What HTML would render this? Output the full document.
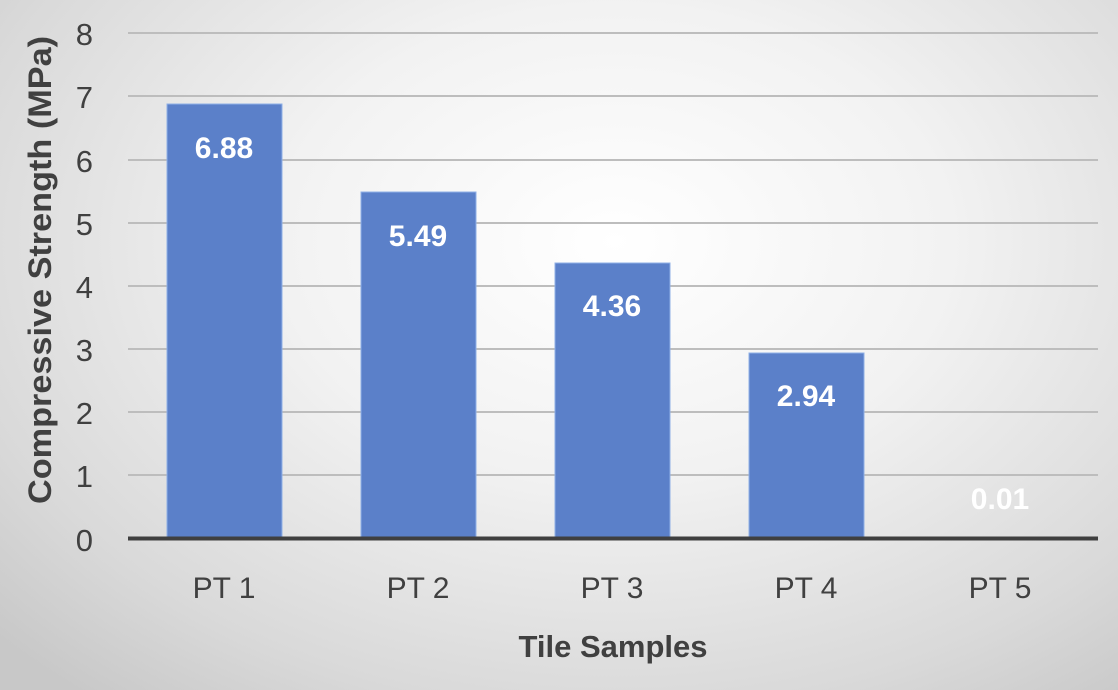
<!DOCTYPE html>
<html><head><meta charset="utf-8"><style>
html,body{margin:0;padding:0;}
body{width:1118px;height:690px;overflow:hidden;background:radial-gradient(ellipse 75% 85% at 55% 35%,#ffffff 0%,#f2f2f2 40%,#d9d9d9 80%,#c8c8c8 100%);}
svg{position:absolute;left:0;top:0;}
text{font-family:"Liberation Sans","DejaVu Sans",sans-serif;}
</style></head><body>
<svg width="1118" height="690" viewBox="0 0 1118 690">
<g stroke="#bdbdbd" stroke-width="2">
<line x1="128" x2="1098" y1="33" y2="33"/>
<line x1="128" x2="1098" y1="96" y2="96"/>
<line x1="128" x2="1098" y1="160" y2="160"/>
<line x1="128" x2="1098" y1="223" y2="223"/>
<line x1="128" x2="1098" y1="286" y2="286"/>
<line x1="128" x2="1098" y1="349" y2="349"/>
<line x1="128" x2="1098" y1="412" y2="412"/>
<line x1="128" x2="1098" y1="475" y2="475"/>
</g>
<g fill="#5b80c9" stroke="#8fb0e6" stroke-width="1">
<rect x="167" y="104" width="115" height="435"/>
<rect x="361" y="192" width="115" height="347"/>
<rect x="555" y="263" width="115" height="276"/>
<rect x="749" y="353" width="115" height="186"/>
</g>
<line x1="128" x2="1098" y1="538.5" y2="538.5" stroke="#3f3f3f" stroke-width="4"/>
<g fill="#fff" font-weight="bold" font-size="30" text-anchor="middle">
<text x="224" y="158">6.88</text>
<text x="418" y="246">5.49</text>
<text x="612" y="316">4.36</text>
<text x="806" y="406">2.94</text>
<text x="1000" y="509">0.01</text>
</g>
<g fill="#404040" font-size="31" text-anchor="end">
<text x="93" y="45">8</text>
<text x="93" y="108">7</text>
<text x="93" y="172">6</text>
<text x="93" y="235">5</text>
<text x="93" y="298">4</text>
<text x="93" y="361">3</text>
<text x="93" y="424">2</text>
<text x="93" y="487">1</text>
<text x="93" y="551">0</text>
</g>
<g fill="#404040" font-size="30" text-anchor="middle">
<text x="224" y="598">PT 1</text>
<text x="418" y="598">PT 2</text>
<text x="612" y="598">PT 3</text>
<text x="806" y="598">PT 4</text>
<text x="1000" y="598">PT 5</text>
</g>
<text x="613" y="657" fill="#404040" font-size="31" font-weight="bold" text-anchor="middle">Tile Samples</text>
<text transform="translate(51,270) rotate(-90)" fill="#404040" font-size="32" font-weight="bold" text-anchor="middle" textLength="468" lengthAdjust="spacingAndGlyphs">Compressive Strength (MPa)</text>
</svg>
</body></html>
